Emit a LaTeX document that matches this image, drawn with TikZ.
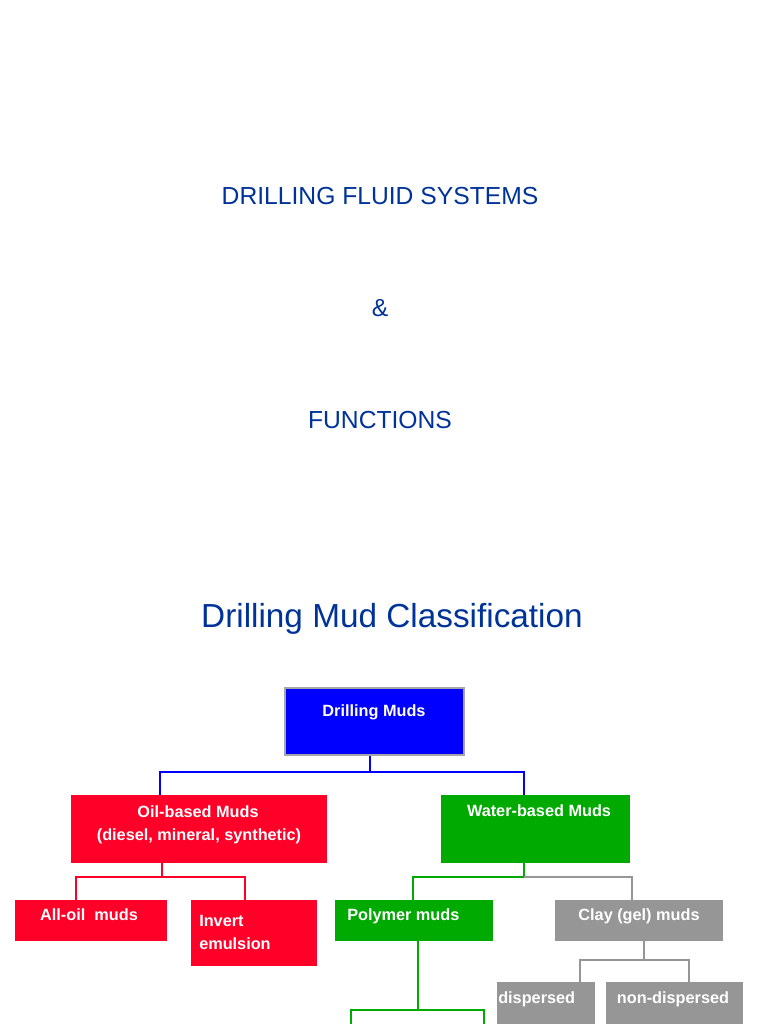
\documentclass[tikz,border=0pt]{standalone}
\usepackage{fontspec}
\setmainfont{Liberation Sans}
\usetikzlibrary{fit}
\definecolor{ttl}{RGB}{0,51,153}
\definecolor{bblue}{RGB}{0,0,255}
\definecolor{bred}{RGB}{255,0,40}
\definecolor{bgreen}{RGB}{0,170,0}
\definecolor{bgray}{RGB}{150,150,150}
\begin{document}
\begin{tikzpicture}[x=0.75pt,y=-0.75pt,
  box/.style={inner sep=0pt,draw=none},
  lbl/.style={text=white,font=\fontsize{12.2}{14.5}\selectfont\bfseries,inner sep=0pt},
  ttlstyle/.style={text=ttl,inner sep=0pt},
  conn/.style={line width=1.6pt}]
\useasboundingbox (0,0) rectangle (768,1024);
\fill[white] (0,0) rectangle (768,1024);
\node[ttlstyle,font=\fontsize{18.5}{22}\selectfont] (t1) at (380,196) {DRILLING FLUID SYSTEMS};
\node[ttlstyle,font=\fontsize{18.5}{22}\selectfont] (t2) at (380,308) {\&};
\node[ttlstyle,font=\fontsize{18.5}{22}\selectfont] (t3) at (380,420) {FUNCTIONS};
\node[ttlstyle,font=\fontsize{25}{30}\selectfont] (t4) at (392,619) {Drilling Mud Classification};

% boxes
\node[box,fill=bblue,draw=gray!70,line width=0.8pt,fit={(285,688) (464,755)}] (dm) {};
\node[box,fill=bred,fit={(71,795) (327,863)}] (oil) {};
\node[box,fill=bgreen,fit={(441,795) (630,863)}] (wat) {};
\node[box,fill=bred,fit={(15,900) (167,941)}] (allo) {};
\node[box,fill=bred,fit={(191,900) (317,966)}] (inv) {};
\node[box,fill=bgreen,fit={(335,900) (493,941)}] (pol) {};
\node[box,fill=bgray,fit={(555,900) (723,941)}] (clay) {};
\node[box,fill=bgray,fit={(497,982) (595,1026)}] (disp) {};
\node[box,fill=bgray,fit={(606,982) (743,1026)}] (ndisp) {};

% labels
\node[lbl] (ldm) at (374,712) {Drilling Muds};
\node[lbl] (loil1) at (198,812) {Oil-based Muds};
\node[lbl] (loil2) at (199,836) {(diesel, mineral, synthetic)};
\node[lbl] (lwat) at (539,811) {Water-based Muds};
\node[lbl] (lall) at (89,915) {All-oil\ \ muds};
\node[lbl,anchor=west] (linv1) at (199,921) {Invert};
\node[lbl,anchor=west] (linv2) at (199,944) {emulsion};
\node[lbl,anchor=west] (lpol) at (347,916) {Polymer muds};
\node[lbl] (lclay) at (639,916) {Clay (gel) muds};
\node[lbl,anchor=west] (ldisp) at (498,999) {dispersed};
\node[lbl] (lndisp) at (673,999) {non-dispersed};

% connectors
\coordinate (b1) at (370,772);
\draw[conn,bblue] (dm.south -| b1) -- (b1);
\draw[conn,bblue] (oil.north -| 160,0) |- (b1) -| (wat.north -| 524,0);
\coordinate (r1) at (162,877);
\draw[conn,bred,line width=1.2pt] (oil.south -| r1) -- (r1);
\draw[conn,bred,line width=1.2pt] (allo.north -| 76,0) |- (r1) -| (inv.north -| 245,0);
\coordinate (g1) at (524,877);
\draw[conn,bgreen,line width=1.2pt] (wat.south -| g1) -- (g1);
\draw[conn,bgreen,line width=1.2pt] (g1) -| (pol.north -| 413,0);
\draw[conn,bgray,line width=1.2pt] (g1) -| (clay.north -| 632,0);
\coordinate (g2) at (418,1010);
\draw[conn,bgreen,line width=1.2pt] (pol.south -| g2) -- (g2);
\coordinate (pl) at (351,1025);
\coordinate (pr) at (484,1025);
\draw[conn,bgreen,line width=1.2pt] (pl) |- (g2) -| (pr);
\coordinate (y1) at (644,960);
\draw[conn,bgray,line width=1.2pt] (clay.south -| y1) -- (y1);
\draw[conn,bgray,line width=1.2pt] (disp.north -| 580,0) |- (y1) -| (ndisp.north -| 689,0);
\end{tikzpicture}
\end{document}
